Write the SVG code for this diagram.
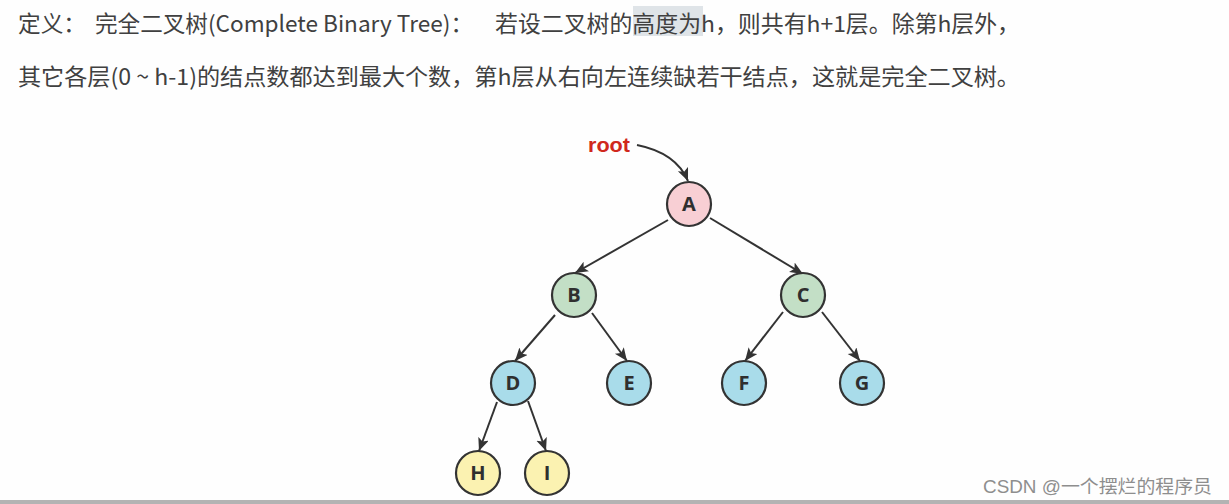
<svg xmlns="http://www.w3.org/2000/svg" width="1229" height="504" viewBox="0 0 1229 504">
<style>
.t{font-family:"Noto Sans CJK SC","Noto Sans",sans-serif;font-size:22.5px;fill:#404040}
.n circle{stroke:#333;stroke-width:2.2}
.n text{font-family:"Open Sans","Liberation Sans",sans-serif;font-weight:bold;font-size:20px;fill:#2f2f2f;text-anchor:middle}
.e{stroke:#333;stroke-width:2;fill:none;marker-end:url(#ah)}
.pink{fill:#f8cfd4}.green{fill:#c3dfc6}.blue{fill:#a9dcea}.yellow{fill:#fbf2b1}
</style>
<defs>
<marker id="ah" markerUnits="userSpaceOnUse" markerWidth="15" markerHeight="12" refX="13" refY="5.5" orient="auto">
<path d="M0,0 L13,5.5 L0,11 L3,5.5 Z" fill="#333"/>
</marker>
</defs>
<rect width="1229" height="504" fill="#fefefe"/>
<rect x="633" y="6" width="70" height="30" fill="#dfe4e8"/>
<g id="text">
<text class="t" x="18" y="32" textLength="68" lengthAdjust="spacingAndGlyphs">定义：</text>
<text class="t" x="95" y="32" textLength="378" lengthAdjust="spacingAndGlyphs">完全二叉树(Complete Binary Tree)：</text>
<text class="t" x="495" y="32" textLength="525" lengthAdjust="spacingAndGlyphs">若设二叉树的高度为h，则共有h+1层。除第h层外，</text>
<text class="t" x="18" y="85" textLength="1002" lengthAdjust="spacingAndGlyphs">其它各层(0 ~ h-1)的结点数都达到最大个数，第h层从右向左连续缺若干结点，这就是完全二叉树。</text>
</g>
<g id="root">
<text x="588" y="152" textLength="42" lengthAdjust="spacingAndGlyphs" style="font-family:'Liberation Sans',sans-serif;font-weight:bold;font-size:20px;fill:#d0281c">root</text>
</g>
<g id="connectors">
<path class="e" d="M637,145 C662,150 680,162 688,181"/>
<path class="e" d="M668,220 L575,273"/>
<path class="e" d="M710,218 L803,274"/>
<path class="e" d="M555,315 L515,361"/>
<path class="e" d="M592,313 L627,361"/>
<path class="e" d="M783,312 L745,361"/>
<path class="e" d="M822,312 L860,361"/>
<path class="e" d="M497,402 L479,451"/>
<path class="e" d="M528,401 L546,451"/>
</g>
<g id="A" class="n"><circle class="pink" cx="689" cy="204" r="22"/><text x="689" y="211">A</text></g>
<g id="B" class="n"><circle class="green" cx="574" cy="295" r="22"/><text x="574" y="302">B</text></g>
<g id="C" class="n"><circle class="green" cx="803" cy="295" r="22"/><text x="803" y="302">C</text></g>
<g id="D" class="n"><circle class="blue" cx="513" cy="383" r="22"/><text x="513" y="390">D</text></g>
<g id="E" class="n"><circle class="blue" cx="629" cy="383" r="22"/><text x="629" y="390">E</text></g>
<g id="F" class="n"><circle class="blue" cx="744" cy="383" r="22"/><text x="744" y="390">F</text></g>
<g id="G" class="n"><circle class="blue" cx="862" cy="383" r="22"/><text x="862" y="390">G</text></g>
<g id="H" class="n"><circle class="yellow" cx="478" cy="473" r="22"/><text x="478" y="480">H</text></g>
<g id="I" class="n"><circle class="yellow" cx="547" cy="473" r="22"/><text x="547" y="480">I</text></g>
<rect x="0" y="500" width="1229" height="4" fill="#b3b3b3"/>
<text x="983" y="493" textLength="229" lengthAdjust="spacingAndGlyphs" style="font-family:'Liberation Sans','Noto Sans CJK SC',sans-serif;font-size:18px;fill:#8e8e8e">CSDN @一个摆烂的程序员</text>
</svg>
